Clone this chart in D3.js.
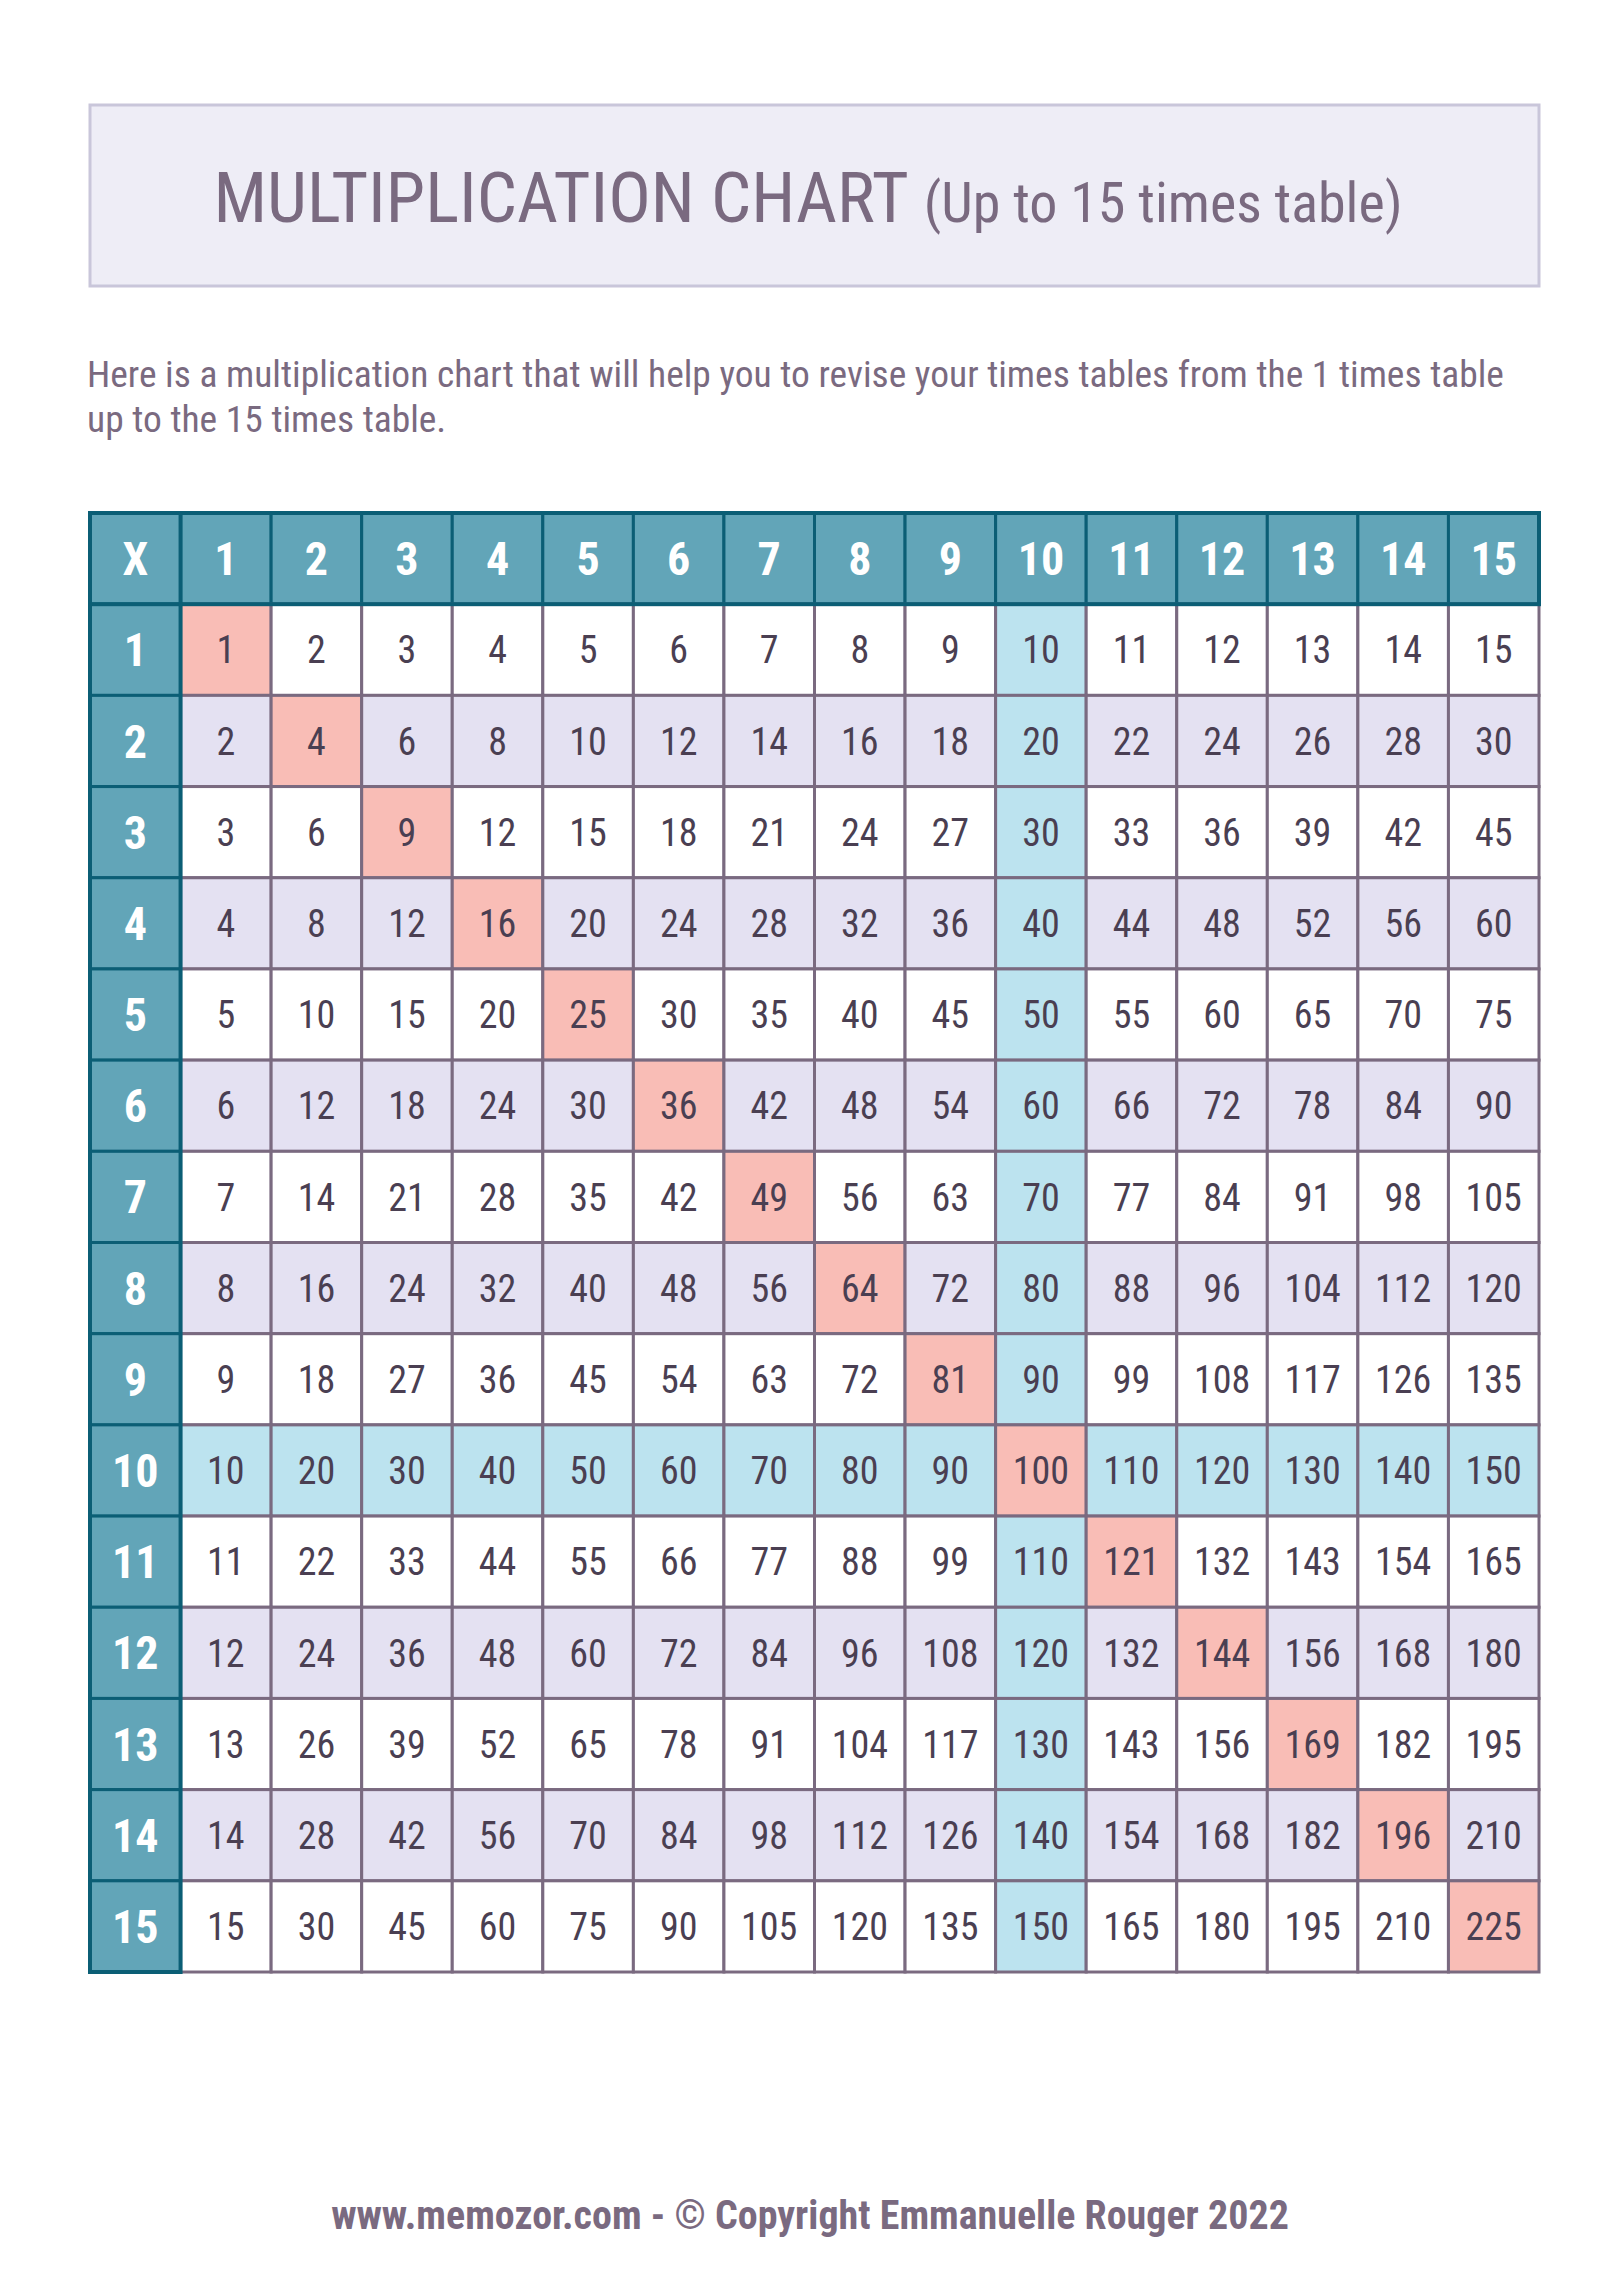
<!DOCTYPE html>
<html><head><meta charset="utf-8">
<script src="https://cdn.jsdelivr.net/npm/d3@7"></script>
<style>body{margin:0;background:#fff}</style>
</head><body>
<script>
const headers = d3.range(1, 16);
const titleMain = "MULTIPLICATION CHART";
const titleSub = "(Up to 15 times table)";
const introLines = ["Here is a multiplication chart that will help you to revise your times tables from the 1 times table","up to the 15 times table."];
const footer = "www.memozor.com - © Copyright Emmanuelle Rouger 2022";

const W = 1608, H = 2274;
const font = "'Liberation Sans Narrow','Roboto Condensed',Roboto,sans-serif";
const svg = d3.select("body").append("svg").attr("width", W).attr("height", H);

svg.append("rect").attr("x", 90).attr("y", 105).attr("width", 1449).attr("height", 181)
  .attr("fill", "#eeedf6").attr("stroke", "#c9c6da").attr("stroke-width", 3);
const t = svg.append("text").attr("x", 808).attr("y", 222).attr("text-anchor", "middle")
  .attr("fill", "#7a6a80").attr("font-family", font);
t.append("tspan").attr("font-size", 71).text(titleMain + " ");
t.append("tspan").attr("font-size", 56).text(titleSub);

svg.selectAll("text.intro").data(introLines).join("text").attr("class", "intro")
  .attr("x", 87).attr("y", (d, i) => 387 + i * 45)
  .attr("font-size", 37.5).attr("fill", "#7a6a80").attr("font-family", font).text(d => d);

const idx = d3.range(0, 16);
const x = d3.scaleBand().domain(idx).range([90, 1539]);
const y = d3.scaleBand().domain(idx).range([513, 1972]);
const cells = [];
idx.forEach(r => idx.forEach(c => cells.push({r, c})));
function fill(d) {
  if (d.r === 0 || d.c === 0) return "#62a5b8";
  if (d.r === d.c) return "#f9bdb6";
  if (d.r === 10 || d.c === 10) return "#bce3ef";
  return d.r % 2 === 0 ? "#e4e1f2" : "#ffffff";
}
const g = svg.append("g");
g.selectAll("rect.cell").data(cells).join("rect").attr("class", "cell")
  .attr("x", d => x(d.c)).attr("y", d => y(d.r))
  .attr("width", x.bandwidth()).attr("height", y.bandwidth())
  .attr("fill", fill).attr("stroke", d => (d.r === 0 || d.c === 0) ? "#0b5e75" : "#7a6a80")
  .attr("stroke-width", 3);
g.append("rect").attr("x", 90).attr("y", 513).attr("width", 1449).attr("height", y.bandwidth())
  .attr("fill", "none").attr("stroke", "#0b5e75").attr("stroke-width", 4);
g.append("rect").attr("x", 90).attr("y", 513).attr("width", x.bandwidth()).attr("height", 1459)
  .attr("fill", "none").attr("stroke", "#0b5e75").attr("stroke-width", 4);

g.selectAll("text.cell").data(cells).join("text").attr("class", "cell")
  .attr("x", d => x(d.c) + x.bandwidth() / 2).attr("y", d => y(d.r) + y.bandwidth() / 2)
  .attr("dy", "0.36em").attr("text-anchor", "middle").attr("font-family", font)
  .attr("font-size", d => (d.r === 0 || d.c === 0) ? 46 : 38)
  .attr("font-weight", d => (d.r === 0 || d.c === 0) ? "bold" : "normal")
  .attr("fill", d => (d.r === 0 || d.c === 0) ? "#ffffff" : "#4a3f52")
  .text(d => {
    if (d.r === 0 && d.c === 0) return "X";
    if (d.r === 0) return headers[d.c - 1];
    if (d.c === 0) return headers[d.r - 1];
    return headers[d.r - 1] * headers[d.c - 1];
  });

svg.append("text").attr("x", 810).attr("y", 2229).attr("text-anchor", "middle")
  .attr("font-family", font).attr("font-size", 40).attr("font-weight", "bold")
  .attr("fill", "#7a6a80").text(footer);
</script>
</body></html>
